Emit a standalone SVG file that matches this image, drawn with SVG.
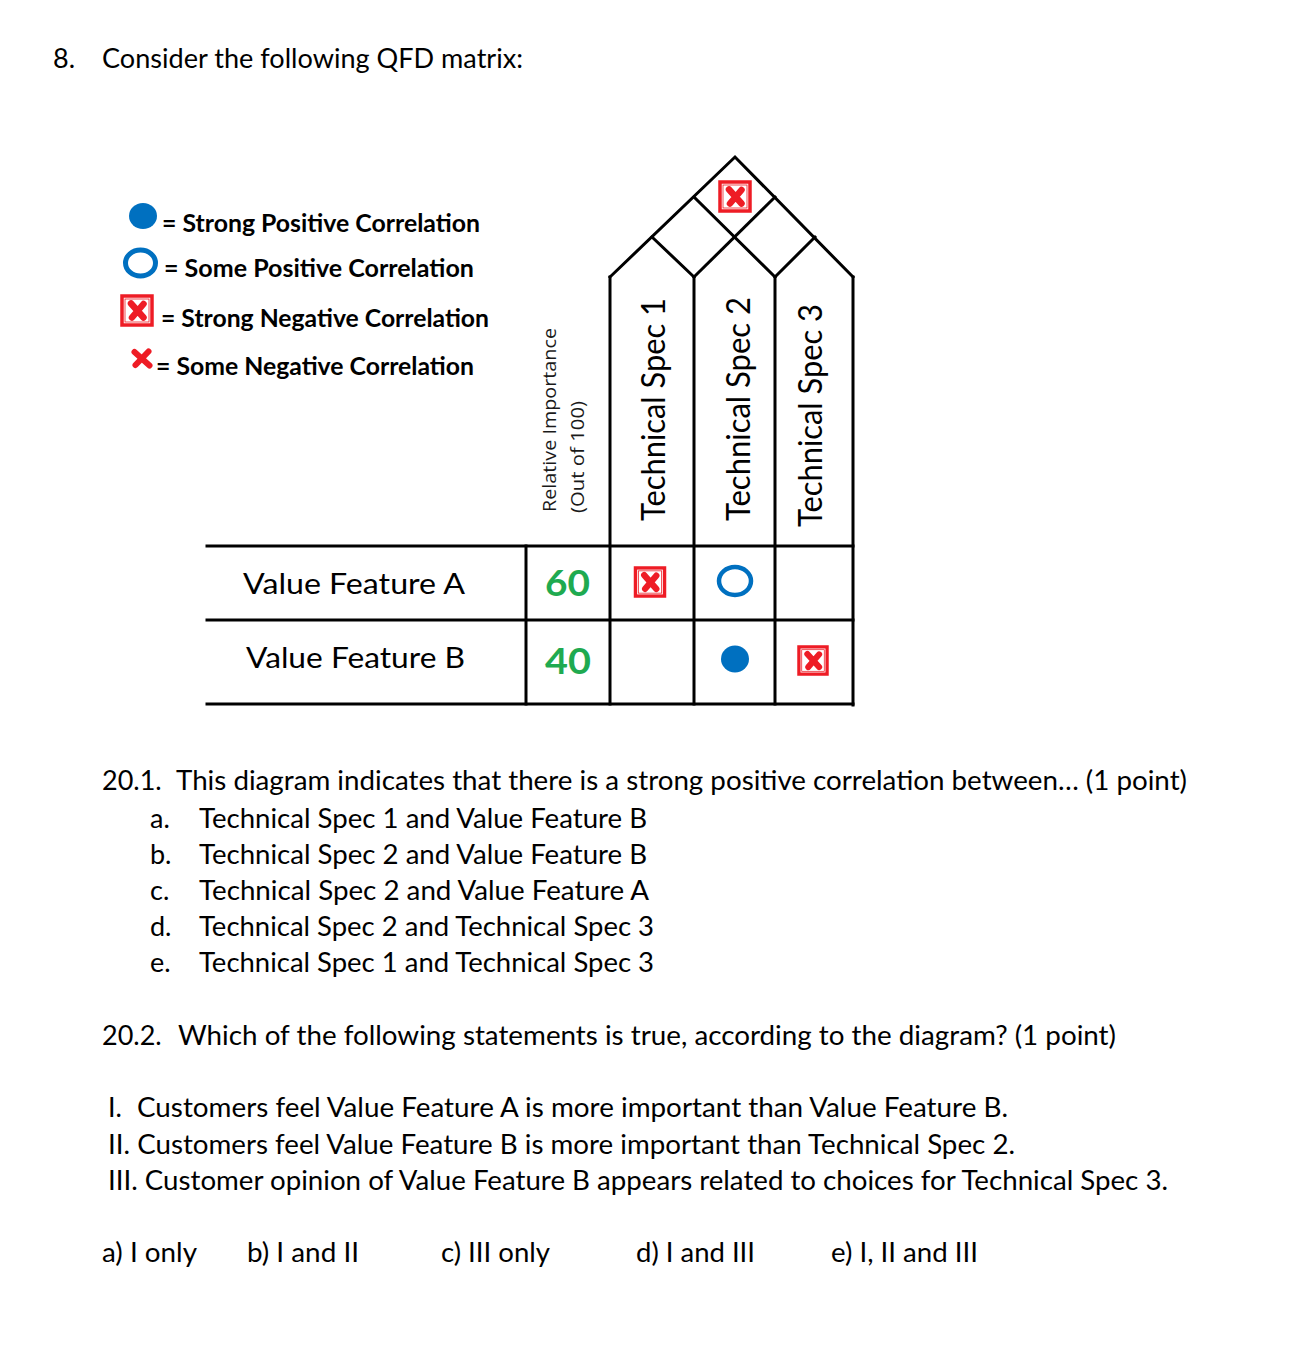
<svg xmlns="http://www.w3.org/2000/svg" xmlns:xlink="http://www.w3.org/1999/xlink" width="1304" height="1350" viewBox="0 0 1304 1350">
<style>
.t{font-family:Lato,"Open Sans","Liberation Sans",sans-serif;font-size:27px;fill:#000}
.lg{font-family:Lato,"Open Sans","Liberation Sans",sans-serif;font-size:25px;font-weight:700;fill:#000}
.hd{font-family:Lato,"Open Sans","Liberation Sans",sans-serif;font-size:32px;fill:#000}
.ri{font-family:"Open Sans","Liberation Sans",sans-serif;font-size:19px;fill:#1a1a1a}
.rl{font-family:Lato,"Open Sans","Liberation Sans",sans-serif;font-size:28px;fill:#000}
.num{font-family:Lato,"Open Sans","Liberation Sans",sans-serif;font-size:37px;font-weight:700;fill:#1FAA50}
.ln{stroke:#000;stroke-width:3;fill:none;stroke-linecap:square}
</style>
<defs>
<symbol id="negbox" viewBox="0 0 34 33">
<rect x="2" y="2" width="30" height="29" fill="#fff" stroke="#EE1C25" stroke-width="3.5"/>
<rect x="5" y="5" width="24" height="23" fill="none" stroke="#EE1C25" stroke-width="0.8"/>
<path d="M11 9.5 L23.5 23.5 M23.5 10 L12 23.5" stroke="#EE1C25" stroke-width="6.5" stroke-linecap="round" fill="none"/>
</symbol>
</defs>
<rect width="1304" height="1350" fill="#fff"/>

<g id="title">
<text class="t" x="53" y="68">8.</text>
<text class="t" x="102" y="68" textLength="421" lengthAdjust="spacingAndGlyphs">Consider the following QFD matrix:</text>
</g>

<g id="legend">
<ellipse cx="143" cy="216" rx="14" ry="13" fill="#0070C0"/>
<text class="lg" x="162" y="232" textLength="318" lengthAdjust="spacingAndGlyphs">= Strong Positive Correlation</text>
<ellipse cx="140.5" cy="263" rx="15" ry="13" fill="none" stroke="#0070C0" stroke-width="5"/>
<text class="lg" x="164" y="277" textLength="310" lengthAdjust="spacingAndGlyphs">= Some Positive Correlation</text>
<use xlink:href="#negbox" x="120" y="294" width="34" height="33"/>
<text class="lg" x="161" y="327" textLength="328" lengthAdjust="spacingAndGlyphs">= Strong Negative Correlation</text>
<path d="M134.5 352 L149.5 365.5 M148.5 351.5 L135.5 365" stroke="#EE1C25" stroke-width="6" stroke-linecap="round" fill="none"/>
<text class="lg" x="156" y="375" textLength="318" lengthAdjust="spacingAndGlyphs">= Some Negative Correlation</text>
</g>

<g id="roof">
<path class="ln" d="M610 277 L735 157 L853 277"/>
<path class="ln" d="M652 237 L694 277"/>
<path class="ln" d="M694 197 L775 277"/>
<path class="ln" d="M775 197 L694 277"/>
<path class="ln" d="M815 237 L775 277"/>
<use xlink:href="#negbox" x="718" y="180" width="34" height="33"/>
</g>

<g id="grid">
<path class="ln" d="M610 277 V704"/>
<path class="ln" d="M694 277 V704"/>
<path class="ln" d="M775 277 V704"/>
<path class="ln" d="M853 277 V705"/>
<path class="ln" d="M526 546 V704"/>
<path class="ln" d="M207 546 H853"/>
<path class="ln" d="M207 620 H853"/>
<path class="ln" d="M207 704 H853"/>
</g>

<g id="headers">
<text class="ri" transform="translate(556,512) rotate(-90)" textLength="184" lengthAdjust="spacingAndGlyphs">Relative Importance</text>
<text class="ri" transform="translate(584,513) rotate(-90)" textLength="112" lengthAdjust="spacingAndGlyphs">(Out of 100)</text>
<text class="hd" transform="translate(665,521) rotate(-90)" textLength="223" lengthAdjust="spacingAndGlyphs">Technical Spec 1</text>
<text class="hd" transform="translate(750,521) rotate(-90)" textLength="224" lengthAdjust="spacingAndGlyphs">Technical Spec 2</text>
<text class="hd" transform="translate(822,527) rotate(-90)" textLength="223" lengthAdjust="spacingAndGlyphs">Technical Spec 3</text>
</g>

<g id="row-a">
<text class="rl" x="243" y="594" textLength="222" lengthAdjust="spacingAndGlyphs">Value Feature A</text>
<text class="num" x="545" y="596" textLength="45" lengthAdjust="spacingAndGlyphs">60</text>
<use xlink:href="#negbox" x="633" y="566" width="34" height="32"/>
<ellipse cx="735" cy="581" rx="16" ry="14" fill="none" stroke="#0070C0" stroke-width="4.5"/>
</g>

<g id="row-b">
<text class="rl" x="246" y="668" textLength="219" lengthAdjust="spacingAndGlyphs">Value Feature B</text>
<text class="num" x="545" y="674" textLength="46" lengthAdjust="spacingAndGlyphs">40</text>
<ellipse cx="735" cy="659" rx="14" ry="13.5" fill="#0070C0"/>
<use xlink:href="#negbox" x="797" y="645" width="32" height="31"/>
</g>

<g id="questions">
<text class="t" x="102" y="790">20.1.</text>
<text class="t" x="176" y="790" textLength="1011" lengthAdjust="spacingAndGlyphs">This diagram indicates that there is a strong positive correlation between… (1 point)</text>
<text class="t" x="150" y="828">a.</text>
<text class="t" x="199" y="828" textLength="448" lengthAdjust="spacingAndGlyphs">Technical Spec 1 and Value Feature B</text>
<text class="t" x="150" y="864">b.</text>
<text class="t" x="199" y="864" textLength="448" lengthAdjust="spacingAndGlyphs">Technical Spec 2 and Value Feature B</text>
<text class="t" x="150" y="900">c.</text>
<text class="t" x="199" y="900" textLength="450" lengthAdjust="spacingAndGlyphs">Technical Spec 2 and Value Feature A</text>
<text class="t" x="150" y="936">d.</text>
<text class="t" x="199" y="936" textLength="455" lengthAdjust="spacingAndGlyphs">Technical Spec 2 and Technical Spec 3</text>
<text class="t" x="150" y="972">e.</text>
<text class="t" x="199" y="972" textLength="455" lengthAdjust="spacingAndGlyphs">Technical Spec 1 and Technical Spec 3</text>

<text class="t" x="102" y="1045">20.2.</text>
<text class="t" x="178" y="1045" textLength="938" lengthAdjust="spacingAndGlyphs">Which of the following statements is true, according to the diagram? (1 point)</text>

<text class="t" x="108" y="1117">I.</text>
<text class="t" x="137" y="1117" textLength="871" lengthAdjust="spacingAndGlyphs">Customers feel Value Feature A is more important than Value Feature B.</text>
<text class="t" x="108" y="1154" textLength="907" lengthAdjust="spacingAndGlyphs">II. Customers feel Value Feature B is more important than Technical Spec 2.</text>
<text class="t" x="108" y="1190" textLength="1060" lengthAdjust="spacingAndGlyphs">III. Customer opinion of Value Feature B appears related to choices for Technical Spec 3.</text>

<text class="t" x="102" y="1262" textLength="95" lengthAdjust="spacingAndGlyphs">a) I only</text>
<text class="t" x="247" y="1262" textLength="112" lengthAdjust="spacingAndGlyphs">b) I and II</text>
<text class="t" x="441" y="1262" textLength="109" lengthAdjust="spacingAndGlyphs">c) III only</text>
<text class="t" x="636" y="1262" textLength="119" lengthAdjust="spacingAndGlyphs">d) I and III</text>
<text class="t" x="831" y="1262" textLength="147" lengthAdjust="spacingAndGlyphs">e) I, II and III</text>
</g>
</svg>
